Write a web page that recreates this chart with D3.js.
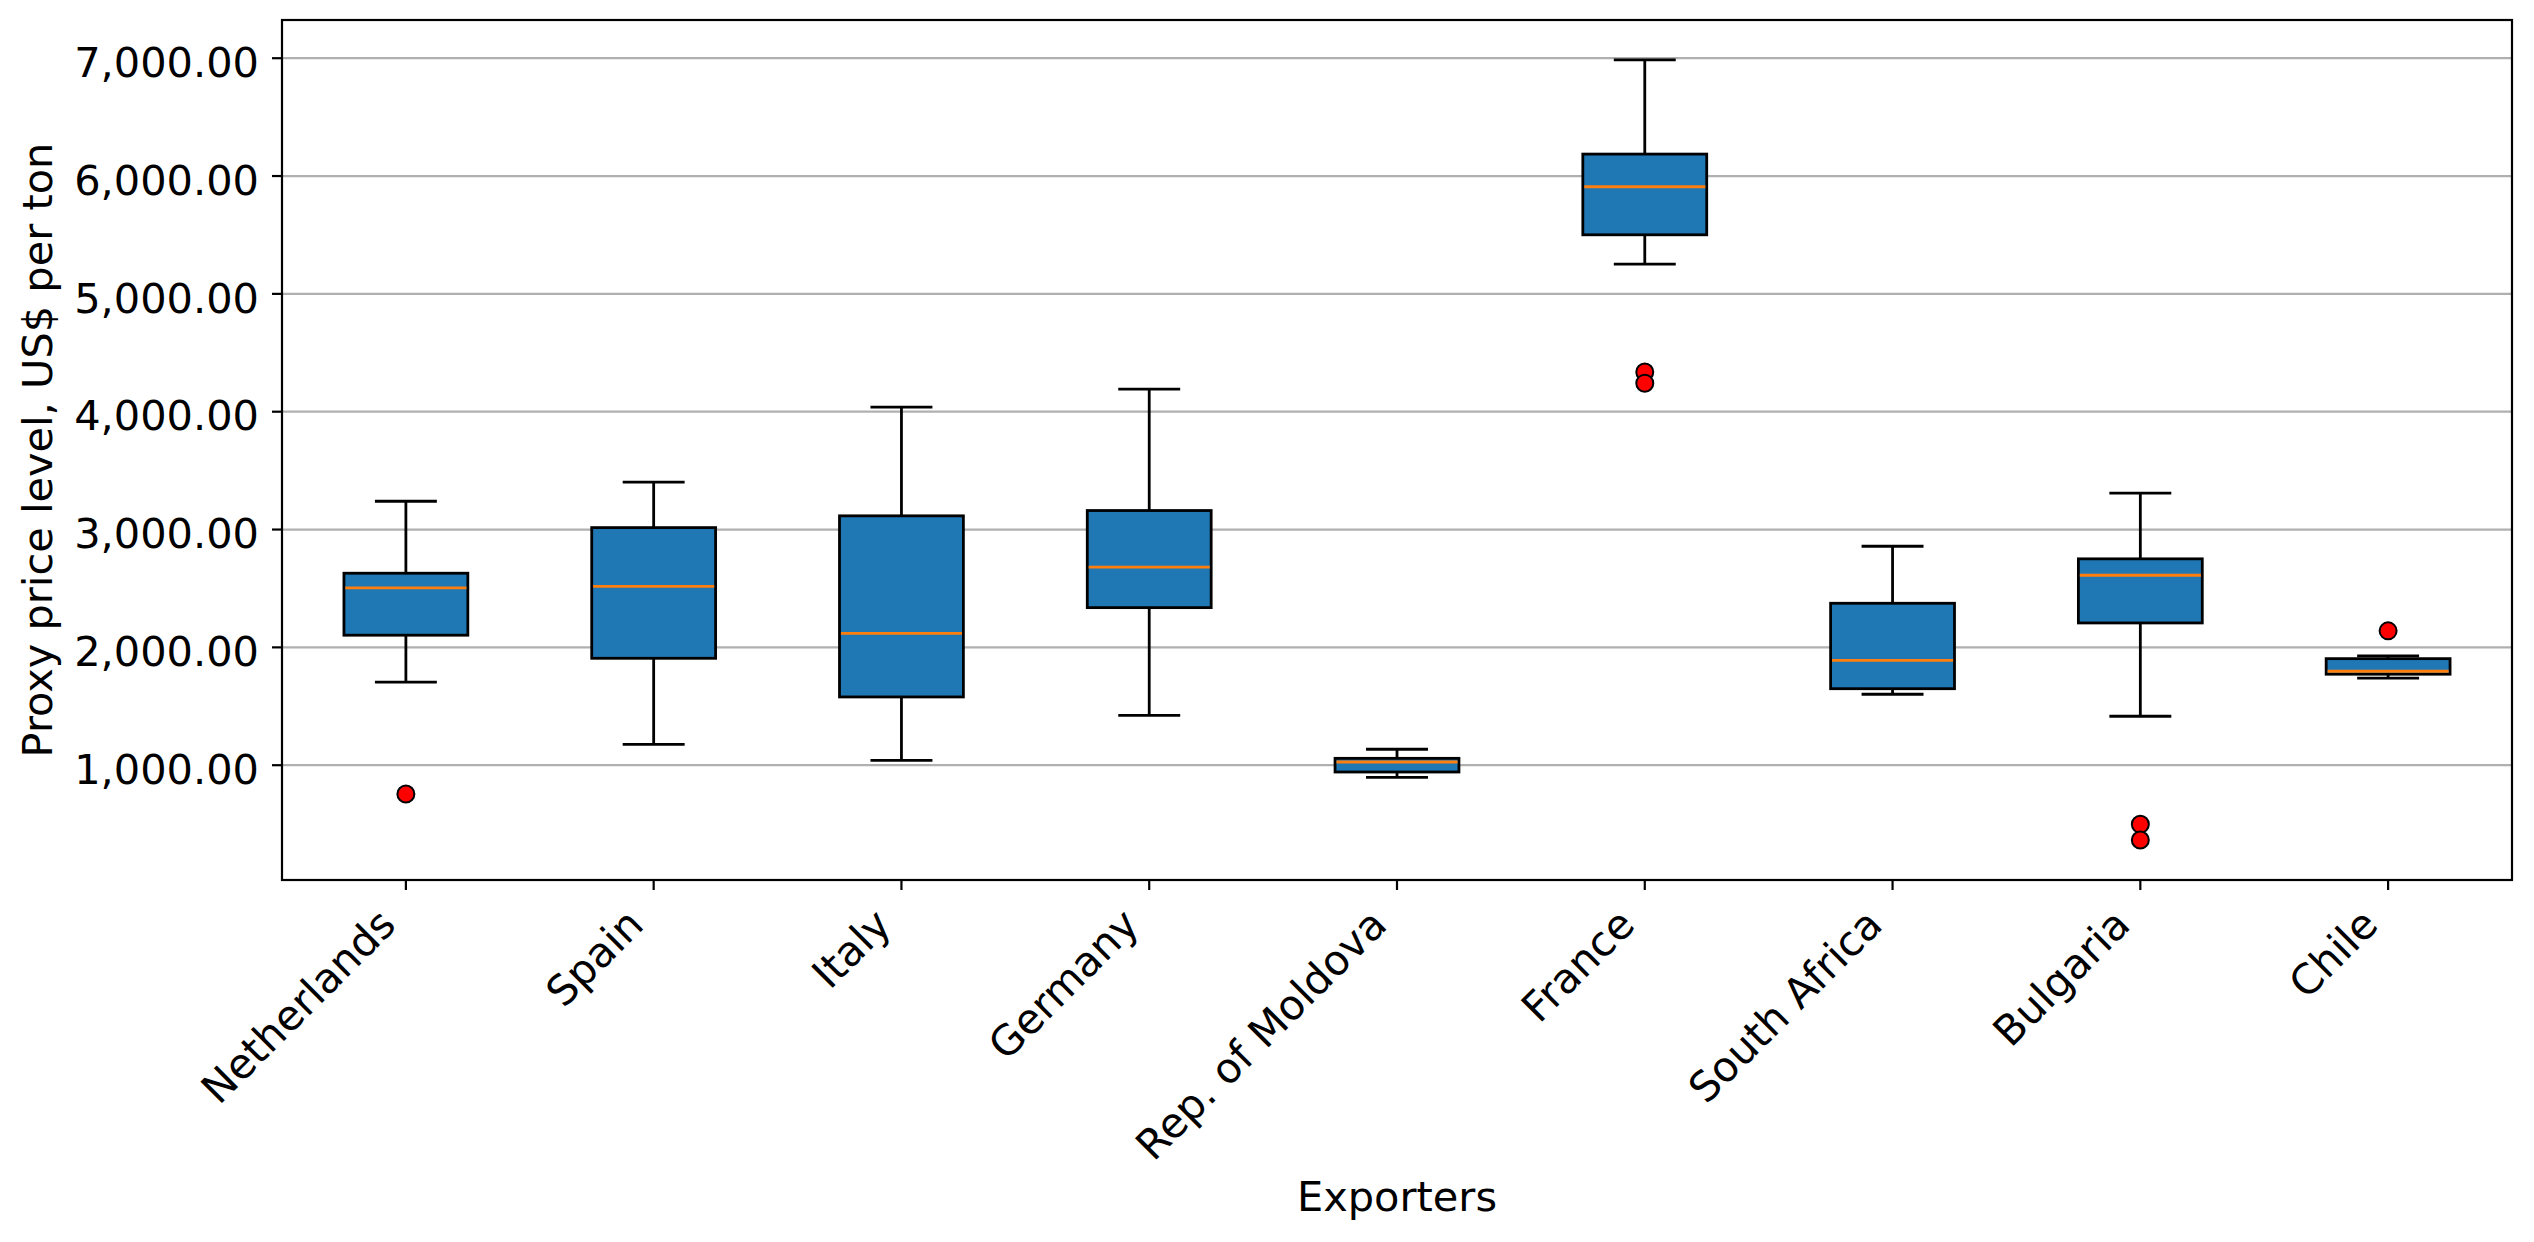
<!DOCTYPE html>
<html>
<head>
<meta charset="utf-8">
<script src="https://d3js.org/d3.v7.min.js"></script>
<style>
  body {margin: 0; background: #fff; font-family: "DejaVu Sans";}
  .axis {font: 41.5px "DejaVu Sans";}
  .axis .domain {display: none;}
  .axis line {stroke: #000; stroke-width: 2.2;}
  .grid .domain {display: none;}
  .grid text {display: none;}
  .grid line {stroke: #b0b0b0; stroke-width: 2.2;}
  .label {font: 41.5px "DejaVu Sans";}
</style>
</head>
<body>
<svg id="chart" width="2534" height="1242"></svg>
<script>
// values (US$ per ton)
var exporters = ["Netherlands", "Spain", "Italy", "Germany", "Rep. of Moldova", "France", "South Africa", "Bulgaria", "Chile"];
var whiskerLow  = [1700, 1173, 1037, 1419,  893, 5249, 1598, 1411, 1734];
var q1          = [2099, 1903, 1575, 2333,  938, 5497, 1645, 2203, 1768];
var medians     = [2500, 2514, 2115, 2676, 1023, 5905, 1886, 2608, 1793];
var q3          = [2625, 3012, 3112, 3157, 1054, 6182, 2370, 2747, 1900];
var whiskerHigh = [3236, 3398, 4034, 4187, 1131, 6981, 2854, 3304, 1923];
var outliers    = [[751], [], [], [], [], [4333, 4238], [], [494, 361], [2136]];
var yTicks = [1000, 2000, 3000, 4000, 5000, 6000, 7000];

var svg = d3.select("#chart"),
    margin = {top: 20, right: 22, bottom: 362, left: 282},
    width = +svg.attr("width") - margin.left - margin.right,
    height = +svg.attr("height") - margin.top - margin.bottom,
    g = svg.append("g").attr("transform", "translate(" + margin.left + "," + margin.top + ")");

var x = d3.scaleBand()
    .domain(exporters)
    .range([0, width])
    .padding(0);

var y = d3.scaleLinear()
    .domain([21.5, 7320])
    .range([height, 0]);

var boxW = x.bandwidth() * 0.5,
    capW = x.bandwidth() * 0.25;

// horizontal grid
g.append("g")
    .attr("class", "grid")
    .call(d3.axisLeft(y).tickValues(yTicks).tickSize(-width));

var data = exporters.map(function(name, i) {
  return {name: name, lo: whiskerLow[i], q1: q1[i], med: medians[i], q3: q3[i], hi: whiskerHigh[i], out: outliers[i]};
});

var box = g.selectAll(".box")
    .data(data)
    .enter().append("g")
    .attr("class", "box")
    .attr("transform", function(d) { return "translate(" + (x(d.name) + x.bandwidth() / 2) + ",0)"; });

// whiskers
box.append("line")
    .attr("y1", function(d) { return y(d.q3); })
    .attr("y2", function(d) { return y(d.hi); })
    .attr("stroke", "#000").attr("stroke-width", 2.8);
box.append("line")
    .attr("y1", function(d) { return y(d.q1); })
    .attr("y2", function(d) { return y(d.lo); })
    .attr("stroke", "#000").attr("stroke-width", 2.8);

// caps
box.selectAll(".cap")
    .data(function(d) { return [d.lo, d.hi]; })
    .enter().append("line")
    .attr("class", "cap")
    .attr("x1", -capW / 2)
    .attr("x2", capW / 2)
    .attr("y1", function(v) { return y(v); })
    .attr("y2", function(v) { return y(v); })
    .attr("stroke", "#000").attr("stroke-width", 2.8);

// boxes
box.append("rect")
    .attr("x", -boxW / 2)
    .attr("width", boxW)
    .attr("y", function(d) { return y(d.q3); })
    .attr("height", function(d) { return y(d.q1) - y(d.q3); })
    .attr("fill", "#1f77b4")
    .attr("stroke", "#000")
    .attr("stroke-width", 2.8);

// medians
box.append("line")
    .attr("x1", -boxW / 2 + 1.4)
    .attr("x2", boxW / 2 - 1.4)
    .attr("y1", function(d) { return y(d.med); })
    .attr("y2", function(d) { return y(d.med); })
    .attr("stroke", "#ff7f0e")
    .attr("stroke-width", 2.8);

// outliers
box.selectAll(".flier")
    .data(function(d) { return d.out; })
    .enter().append("circle")
    .attr("class", "flier")
    .attr("cy", function(v) { return y(v); })
    .attr("r", 8.5)
    .attr("fill", "red")
    .attr("stroke", "#000")
    .attr("stroke-width", 2);

// axes
g.append("g")
    .attr("class", "axis")
    .call(d3.axisLeft(y).tickValues(yTicks).tickSize(10).tickPadding(13).tickFormat(d3.format(",.2f")))
    .selectAll("text")
    .attr("dy", "0.45em");

var xAxis = g.append("g")
    .attr("class", "axis")
    .attr("transform", "translate(0," + height + ")")
    .call(d3.axisBottom(x).tickSize(10));

xAxis.selectAll("text")
    .attr("text-anchor", "end")
    .attr("x", 0)
    .attr("y", 0)
    .attr("dy", null)
    .attr("transform", "translate(-8,47) rotate(-45)");

// frame
g.append("rect")
    .attr("width", width)
    .attr("height", height)
    .attr("fill", "none")
    .attr("stroke", "#000")
    .attr("stroke-width", 2.2);

svg.append("text")
    .attr("class", "label")
    .attr("text-anchor", "middle")
    .attr("transform", "translate(52," + (margin.top + height / 2) + ") rotate(-90)")
    .text("Proxy price level, US$ per ton");

svg.append("text")
    .attr("class", "label")
    .attr("text-anchor", "middle")
    .attr("x", margin.left + width / 2)
    .attr("y", 1211)
    .text("Exporters");
</script>
</body>
</html>
